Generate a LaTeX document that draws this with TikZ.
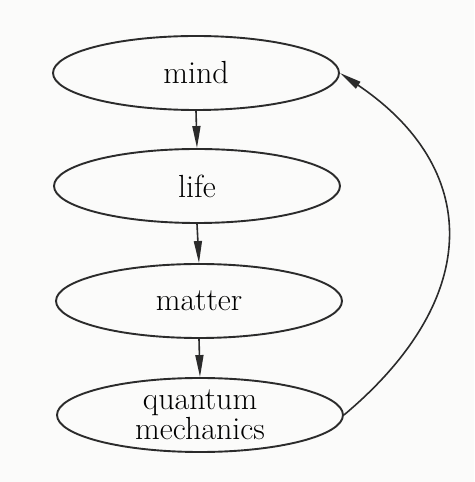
\documentclass[tikz,border=0pt]{standalone}
\usetikzlibrary{arrows.meta,shapes.geometric}
\definecolor{ink}{HTML}{2B2B2B}
\definecolor{paper}{HTML}{FBFBFA}
\tikzset{
  oval/.style={ellipse,draw=ink,line width=1.9pt,minimum width=286pt,minimum height=74pt,inner sep=0pt,
    text=black,font=\fontsize{32}{30}\selectfont,align=center},
  link/.style={draw=ink,line width=1.6pt,-{Triangle[length=22pt,width=8pt]}}
}
\begin{document}
\begin{tikzpicture}[x=1pt,y=1pt]
\useasboundingbox (0,0) rectangle (474,482);
\fill[paper] (0,0) rectangle (474,482);
\node[oval] (mind) at (196,409) {mind};
\node[oval] (life) at (197,296) {life};
\node[oval] (matter) at (199,181) {matter};
\node[oval] (qm) at (200,67) {quantum\\mechanics};
\draw[link] (mind.south) -- (life.north);
\draw[link] (life.south) -- (matter.north);
\draw[link] (matter.south) -- (qm.north);
\draw[link] (qm.east) to[out=40,in=-34,out distance=185pt,in distance=168pt] (mind.east);
\end{tikzpicture}
\end{document}
